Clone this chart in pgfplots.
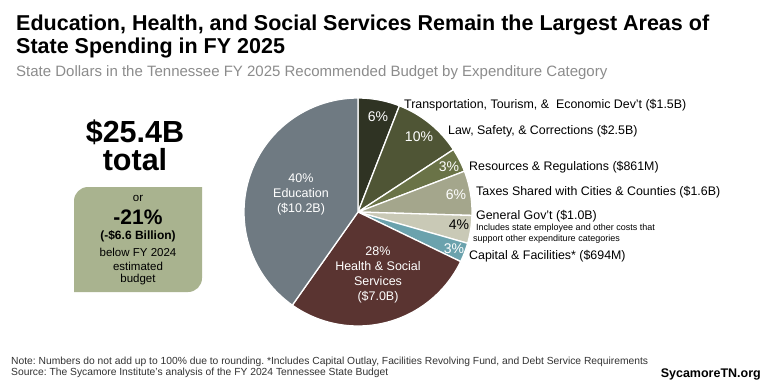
\documentclass[border=0pt]{standalone}
\usepackage{pgfplots}
\pgfplotsset{compat=1.18}
\usepackage{fontspec}
\setmainfont{Liberation Sans}
\frenchspacing
\definecolor{cEdu}{HTML}{6F7A82}
\definecolor{cHealth}{HTML}{5A3431}
\definecolor{cTrans}{HTML}{2F3323}
\definecolor{cLaw}{HTML}{4F5535}
\definecolor{cRes}{HTML}{6A7347}
\definecolor{cTax}{HTML}{A4A68C}
\definecolor{cGen}{HTML}{C9C9B6}
\definecolor{cCap}{HTML}{6BA2AD}
\definecolor{cBox}{HTML}{A9B38F}
\definecolor{cSub}{HTML}{8C8C8C}
\definecolor{cFoot}{HTML}{333333}
% spending in $ billions, clockwise from 12 o'clock
\def\vTrans{1.5}
\def\vLaw{2.5}
\def\vRes{0.861}
\def\vTax{1.6}
\def\vGen{1.0}
\def\vCap{0.694}
\def\vHealth{7.0}
\def\vEdu{10.2}
\newcommand\fs[1]{\fontsize{#1}{#1}\selectfont}
\begin{document}
\begin{tikzpicture}
\useasboundingbox (0,0) rectangle (768pt,-384pt);
\fill[white] (0,0) rectangle (768pt,-384pt);
\pgfmathsetmacro\total{\vTrans+\vLaw+\vRes+\vTax+\vGen+\vCap+\vHealth+\vEdu}
\pgfmathsetmacro\aA{90}
\pgfmathsetmacro\aB{\aA-360*\vTrans/\total}
\pgfmathsetmacro\aC{\aB-360*\vLaw/\total}
\pgfmathsetmacro\aD{\aC-360*\vRes/\total}
\pgfmathsetmacro\aE{\aD-360*\vTax/\total}
\pgfmathsetmacro\aF{\aE-360*\vGen/\total}
\pgfmathsetmacro\aG{\aF-360*\vCap/\total}
\pgfmathsetmacro\aH{\aG-360*\vHealth/\total}
\pgfmathsetmacro\aI{\aH-360*\vEdu/\total}
\begin{axis}[at={(358pt,-212pt)},anchor=center,width=228pt,height=228pt,
  scale only axis,xmin=-1,xmax=1,ymin=-1,ymax=1,hide axis,clip=false]
\addplot[fill=cTrans,draw=white,line width=1.3pt,line join=round,domain=\aB:\aA,samples=30,variable=\t] ({cos(\t)},{sin(\t)}) -- (axis cs:0,0) -- cycle;
\addplot[fill=cLaw,draw=white,line width=1.3pt,line join=round,domain=\aC:\aB,samples=30,variable=\t] ({cos(\t)},{sin(\t)}) -- (axis cs:0,0) -- cycle;
\addplot[fill=cRes,draw=white,line width=1.3pt,line join=round,domain=\aD:\aC,samples=20,variable=\t] ({cos(\t)},{sin(\t)}) -- (axis cs:0,0) -- cycle;
\addplot[fill=cTax,draw=white,line width=1.3pt,line join=round,domain=\aE:\aD,samples=30,variable=\t] ({cos(\t)},{sin(\t)}) -- (axis cs:0,0) -- cycle;
\addplot[fill=cGen,draw=white,line width=1.3pt,line join=round,domain=\aF:\aE,samples=20,variable=\t] ({cos(\t)},{sin(\t)}) -- (axis cs:0,0) -- cycle;
\addplot[fill=cCap,draw=white,line width=1.3pt,line join=round,domain=\aG:\aF,samples=20,variable=\t] ({cos(\t)},{sin(\t)}) -- (axis cs:0,0) -- cycle;
\addplot[fill=cHealth,draw=white,line width=1.3pt,line join=round,domain=\aH:\aG,samples=60,variable=\t] ({cos(\t)},{sin(\t)}) -- (axis cs:0,0) -- cycle;
\addplot[fill=cEdu,draw=white,line width=1.3pt,line join=round,domain=\aI:\aH,samples=80,variable=\t] ({cos(\t)},{sin(\t)}) -- (axis cs:0,0) -- cycle;
\end{axis}
% titles
\node[anchor=west,inner sep=0] at (16pt,-25pt) {\fs{21.5}\bfseries Education, Health, and Social Services Remain the Largest Areas of};
\node[anchor=west,inner sep=0] at (16pt,-48pt) {\fs{21.5}\bfseries State Spending in FY 2025};
\node[anchor=west,inner sep=0,text=cSub] at (16pt,-73pt) {\fs{15}State Dollars in the Tennessee FY 2025 Recommended Budget by Expenditure Category};
% total
\node[inner sep=0,align=center,font=\fs{30.5}\bfseries] at (135pt,-145.5pt) {\$25.4B\\[-2.5pt]total};
\fill[cBox] (74pt,-292pt) -- (74pt,-201pt) arc[start angle=180,end angle=90,radius=14pt] -- (202pt,-187pt) -- (202pt,-278pt) arc[start angle=0,end angle=-90,radius=14pt] -- cycle;
\node[inner sep=0] at (138pt,-198pt) {\fs{11.5}or};
\node[inner sep=0] at (138pt,-217pt) {\fs{21}\bfseries -21\%};
\node[inner sep=0] at (138pt,-236pt) {\fs{12}\bfseries (-\$6.6 Billion)};
\node[inner sep=0] at (138pt,-252pt) {\fs{11.5}below FY 2024};
\node[inner sep=0] at (138pt,-266pt) {\fs{11.5}estimated};
\node[inner sep=0] at (138pt,-280pt) {\fs{11.5}budget};
% in-slice labels
\node[inner sep=0,text=white,align=center,font=\fs{12.5}] at (301pt,-194pt) {40\%\\[2.5pt]Education\\[2.5pt](\$10.2B)};
\node[inner sep=0,text=white,align=center,font=\fs{12.5}] at (378pt,-275pt) {28\%\\[2.5pt]Health \& Social\\[2.5pt]Services\\[2.5pt](\$7.0B)};
\node[inner sep=0,text=white] at (378pt,-117pt) {\fs{14}6\%};
\node[inner sep=0,text=white] at (419pt,-137pt) {\fs{14}10\%};
\node[inner sep=0,text=white] at (449pt,-167pt) {\fs{14}3\%};
\node[inner sep=0,text=white] at (456pt,-195pt) {\fs{14}6\%};
\node[inner sep=0,text=black] at (459pt,-225pt) {\fs{14}4\%};
\node[inner sep=0,text=white] at (454pt,-249pt) {\fs{14}3\%};
% outer labels
\node[anchor=west,inner sep=0] at (404pt,-105pt) {\fs{12.4}Transportation, Tourism, \&\ \ Economic Dev't (\$1.5B)};
\node[anchor=west,inner sep=0] at (448pt,-131pt) {\fs{12.4}Law, Safety, \& Corrections (\$2.5B)};
\node[anchor=west,inner sep=0] at (469pt,-167pt) {\fs{12.4}Resources \& Regulations (\$861M)};
\node[anchor=west,inner sep=0] at (476pt,-192pt) {\fs{12.4}Taxes Shared with Cities \& Counties (\$1.6B)};
\node[anchor=west,inner sep=0] at (476pt,-216pt) {\fs{12.4}General Gov't (\$1.0B)};
\node[anchor=west,inner sep=0] at (476pt,-228pt) {\fs{9}Includes state employee and other costs that};
\node[anchor=west,inner sep=0] at (473pt,-239pt) {\fs{9}support other expenditure categories};
\node[anchor=west,inner sep=0] at (469pt,-256pt) {\fs{12.4}Capital \& Facilities* (\$694M)};
% footer
\node[anchor=west,inner sep=0,text=cFoot] at (11pt,-362pt) {\fs{10.3}Note: Numbers do not add up to 100\% due to rounding. *Includes Capital Outlay, Facilities Revolving Fund, and Debt Service Requirements};
\node[anchor=west,inner sep=0,text=cFoot] at (11pt,-373pt) {\fs{10.3}Source: The Sycamore Institute's analysis of the FY 2024 Tennessee State Budget};
\node[anchor=east,inner sep=0] at (761pt,-374pt) {\fs{12.5}\bfseries SycamoreTN.org};
\end{tikzpicture}
\end{document}
